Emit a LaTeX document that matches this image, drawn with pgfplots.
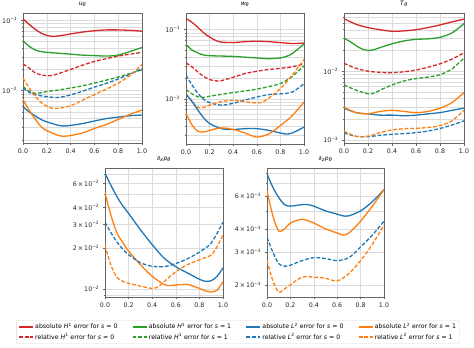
\documentclass[border=0pt]{standalone}
\usepackage{fontspec}
\setmainfont{DejaVu Sans}
\usepackage{pgfplots}
\pgfplotsset{compat=1.18}
\definecolor{mred}{HTML}{D62728}
\definecolor{mgreen}{HTML}{2CA02C}
\definecolor{mblue}{HTML}{1F77B4}
\definecolor{morange}{HTML}{FF7F0E}
\newcommand{\tlab}[1]{10\textsuperscript{−#1}}
\tikzset{
  lrs/.style={color=mred, solid}, lgs/.style={color=mgreen, solid}, lbs/.style={color=mblue, solid}, los/.style={color=morange, solid},
  lrd/.style={color=mred, dash pattern=on 3.8pt off 1.9pt},
  lgd/.style={color=mgreen, dash pattern=on 3.8pt off 1.9pt},
  lbd/.style={color=mblue, dash pattern=on 3.8pt off 1.9pt},
  lod/.style={color=morange, dash pattern=on 3.8pt off 1.9pt},
}
\pgfplotsset{
  panelstyle/.style={
    scale only axis, xmin=0, xmax=1,
    xtick={0,0.2,0.4,0.6,0.8,1},
    xticklabels={0.0,0.2,0.4,0.6,0.8,1.0},
    grid=both,
    major grid style={draw=black!14, line width=0.5pt},
    minor grid style={draw=black!14, line width=0.45pt},
    axis line style={draw=black!60, line width=0.6pt},
    tick style={draw=black!60, line width=0.5pt},
    major tick length=2.2pt, minor tick length=1.3pt,
    tick align=outside, tick pos=left,
    ticklabel style={font=\fontsize{6.3}{7}\selectfont, text=black!85},
    title style={font=\fontsize{6}{7}\selectfont, yshift=-3.5pt},
    every axis plot/.append style={line width=1.3pt, smooth, tension=0.5},
  },
}
\begin{document}
\begin{tikzpicture}
\path[use as bounding box] (0pt,0pt) rectangle (474pt,-348pt);
% ---------------- u_theta
\begin{semilogyaxis}[panelstyle, at={(23pt,-143pt)}, anchor=south west, width=119pt, height=130pt,
  ymin=0.0018, ymax=0.127,
  ytick={0.01,0.1}, yticklabels={\tlab{2},\tlab{1}},
  minor ytick={0.002,0.003,0.004,0.005,0.006,0.007,0.008,0.009,0.02,0.03,0.04,0.05,0.06,0.07,0.08,0.09},
  title={\textit{u}\textsubscript{\textit{θ}}}]
\addplot[lrs] coordinates {(0,0.105)(0.05,0.088)(0.1,0.075)(0.15,0.066)(0.2,0.061)(0.25,0.059)(0.3,0.060)(0.4,0.064)(0.5,0.068)(0.6,0.071)(0.7,0.073)(0.8,0.073)(0.9,0.072)(1.0,0.070)};
\addplot[lgs] coordinates {(0,0.051)(0.05,0.043)(0.1,0.038)(0.15,0.036)(0.2,0.035)(0.3,0.034)(0.4,0.033)(0.5,0.032)(0.6,0.0315)(0.7,0.031)(0.8,0.032)(0.9,0.036)(1.0,0.041)};
\addplot[lrd] coordinates {(0,0.024)(0.05,0.021)(0.1,0.018)(0.15,0.0168)(0.2,0.0163)(0.25,0.0165)(0.3,0.0175)(0.4,0.020)(0.5,0.023)(0.6,0.026)(0.7,0.0285)(0.8,0.031)(0.9,0.033)(1.0,0.035)};
\addplot[lgd] coordinates {(0,0.0115)(0.05,0.0098)(0.1,0.0092)(0.15,0.0093)(0.2,0.0097)(0.3,0.0102)(0.4,0.0109)(0.5,0.0117)(0.6,0.0128)(0.7,0.0141)(0.8,0.0156)(0.9,0.0175)(1.0,0.0198)};
\addplot[lbd] coordinates {(0,0.0108)(0.05,0.0095)(0.1,0.0088)(0.2,0.0082)(0.3,0.0080)(0.4,0.0087)(0.5,0.0098)(0.6,0.0112)(0.7,0.0127)(0.8,0.0146)(0.9,0.0172)(1.0,0.0205)};
\addplot[lod] coordinates {(0,0.0150)(0.05,0.011)(0.1,0.0084)(0.15,0.0068)(0.2,0.0060)(0.25,0.0056)(0.3,0.0056)(0.4,0.0061)(0.5,0.0073)(0.6,0.0088)(0.7,0.0105)(0.8,0.0128)(0.9,0.0165)(1.0,0.0235)};
\addplot[lbs] coordinates {(0,0.0059)(0.05,0.0050)(0.1,0.0044)(0.15,0.0039)(0.2,0.0036)(0.3,0.0032)(0.35,0.00315)(0.4,0.0032)(0.5,0.0034)(0.6,0.0037)(0.7,0.0040)(0.8,0.0042)(0.9,0.0044)(1.0,0.0045)};
\addplot[los] coordinates {(0,0.0075)(0.05,0.0053)(0.1,0.0040)(0.15,0.0031)(0.2,0.0027)(0.3,0.0023)(0.35,0.00225)(0.4,0.0023)(0.5,0.0025)(0.6,0.0029)(0.7,0.0033)(0.8,0.0039)(0.9,0.0046)(1.0,0.0053)};
\end{semilogyaxis}
% ---------------- w_theta
\begin{semilogyaxis}[panelstyle, at={(186pt,-144pt)}, anchor=south west, width=118pt, height=131pt,
  ymin=0.00222, ymax=0.174,
  ytick={0.01,0.1}, yticklabels={\tlab{2},\tlab{1}},
  minor ytick={0.003,0.004,0.005,0.006,0.007,0.008,0.009,0.02,0.03,0.04,0.05,0.06,0.07,0.08,0.09},
  title={\textit{w}\textsubscript{\textit{θ}}}]
\addplot[lrs] coordinates {(0,0.145)(0.05,0.128)(0.1,0.108)(0.15,0.090)(0.2,0.078)(0.25,0.070)(0.3,0.066)(0.4,0.065)(0.5,0.067)(0.6,0.068)(0.7,0.067)(0.8,0.065)(0.9,0.063)(1.0,0.064)};
\addplot[lgs] coordinates {(0,0.061)(0.05,0.051)(0.1,0.046)(0.15,0.043)(0.2,0.042)(0.3,0.0415)(0.4,0.041)(0.5,0.040)(0.6,0.039)(0.7,0.038)(0.8,0.039)(0.85,0.041)(0.9,0.045)(1.0,0.062)};
\addplot[lrd] coordinates {(0,0.033)(0.05,0.029)(0.1,0.0245)(0.15,0.021)(0.2,0.019)(0.25,0.0182)(0.3,0.0183)(0.4,0.0205)(0.5,0.0232)(0.6,0.025)(0.7,0.0265)(0.8,0.0275)(0.9,0.029)(1.0,0.032)};
\addplot[lgd] coordinates {(0,0.0136)(0.05,0.0118)(0.1,0.0107)(0.15,0.0105)(0.2,0.0109)(0.3,0.0116)(0.4,0.0123)(0.5,0.013)(0.6,0.0138)(0.7,0.015)(0.8,0.0166)(0.9,0.021)(1.0,0.030)};
\addplot[lbd] coordinates {(0,0.022)(0.05,0.016)(0.1,0.012)(0.15,0.0098)(0.2,0.0088)(0.3,0.0081)(0.4,0.0086)(0.5,0.0096)(0.6,0.0106)(0.7,0.0115)(0.8,0.0118)(0.9,0.0125)(1.0,0.0165)};
\addplot[lod] coordinates {(0,0.012)(0.05,0.0092)(0.1,0.0075)(0.15,0.0075)(0.2,0.0081)(0.3,0.0091)(0.4,0.0095)(0.5,0.0091)(0.6,0.0087)(0.65,0.009)(0.7,0.0102)(0.8,0.014)(0.9,0.022)(1.0,0.037)};
\addplot[lbs] coordinates {(0,0.0115)(0.05,0.0092)(0.1,0.0069)(0.15,0.0053)(0.2,0.0044)(0.3,0.0037)(0.4,0.0036)(0.5,0.0037)(0.6,0.0037)(0.7,0.0035)(0.8,0.0032)(0.85,0.0031)(0.9,0.0032)(1.0,0.0039)};
\addplot[los] coordinates {(0,0.0062)(0.05,0.0042)(0.1,0.0034)(0.15,0.0033)(0.2,0.0035)(0.3,0.0038)(0.4,0.0036)(0.5,0.0032)(0.6,0.0028)(0.7,0.0031)(0.8,0.0041)(0.9,0.0057)(1.0,0.0090)};
\end{semilogyaxis}
% ---------------- T_theta
\begin{semilogyaxis}[panelstyle, at={(344pt,-143.5pt)}, anchor=south west, width=120pt, height=130.5pt,
  ymin=0.00089, ymax=0.070,
  ytick={0.001,0.01}, yticklabels={\tlab{3},\tlab{2}},
  minor ytick={0.002,0.003,0.004,0.005,0.006,0.007,0.008,0.009,0.02,0.03,0.04,0.05,0.06},
  title={\textit{T}\textsubscript{\textit{θ}}}]
\addplot[lrs] coordinates {(0,0.058)(0.1,0.048)(0.2,0.043)(0.3,0.040)(0.4,0.038)(0.5,0.0385)(0.6,0.040)(0.7,0.043)(0.8,0.047)(0.9,0.052)(1.0,0.057)};
\addplot[lgs] coordinates {(0,0.030)(0.05,0.027)(0.1,0.0235)(0.15,0.021)(0.2,0.020)(0.25,0.0205)(0.3,0.022)(0.4,0.025)(0.5,0.0275)(0.6,0.029)(0.7,0.0295)(0.8,0.031)(0.9,0.036)(1.0,0.049)};
\addplot[lrd] coordinates {(0,0.0130)(0.1,0.011)(0.2,0.0100)(0.3,0.0096)(0.4,0.0095)(0.5,0.0098)(0.6,0.0104)(0.7,0.0114)(0.8,0.0128)(0.9,0.0150)(1.0,0.0185)};
\addplot[lgd] coordinates {(0,0.0063)(0.1,0.0053)(0.2,0.0047)(0.25,0.0048)(0.3,0.0053)(0.4,0.0063)(0.5,0.0072)(0.6,0.0078)(0.7,0.0082)(0.8,0.0089)(0.9,0.0108)(1.0,0.0155)};
\addplot[lbs] coordinates {(0,0.0029)(0.1,0.0025)(0.2,0.0024)(0.3,0.0023)(0.4,0.0023)(0.5,0.00225)(0.6,0.0023)(0.7,0.0024)(0.8,0.0025)(0.9,0.0027)(1.0,0.0029)};
\addplot[los] coordinates {(0,0.0030)(0.1,0.0025)(0.2,0.0024)(0.3,0.0026)(0.4,0.0027)(0.5,0.0026)(0.6,0.0025)(0.7,0.0026)(0.8,0.0029)(0.9,0.0035)(1.0,0.0049)};
\addplot[lbd] coordinates {(0,0.00127)(0.1,0.00113)(0.2,0.00112)(0.3,0.00117)(0.4,0.00121)(0.5,0.00124)(0.6,0.00128)(0.7,0.00135)(0.8,0.00147)(0.9,0.00165)(1.0,0.0019)};
\addplot[lod] coordinates {(0,0.00135)(0.1,0.00113)(0.2,0.00114)(0.3,0.00128)(0.4,0.00140)(0.5,0.00146)(0.6,0.00148)(0.7,0.00152)(0.8,0.00162)(0.9,0.0019)(1.0,0.0027)};
\end{semilogyaxis}
% ---------------- dx p
\begin{semilogyaxis}[panelstyle, at={(105pt,-297pt)}, anchor=south west, width=118pt, height=129pt,
  ymin=0.00873, ymax=0.0777,
  ytick={0.01,0.02,0.03,0.04,0.06},
  yticklabels={\tlab{2},2\,×\,\tlab{2},3\,×\,\tlab{2},4\,×\,\tlab{2},6\,×\,\tlab{2}},
  minor ytick={0.009,0.05,0.07},
  title={\textit{∂}\textsubscript{\textit{x}}\textit{p}\textsubscript{\textit{θ}}}]
\addplot[lbs] coordinates {(0,0.071)(0.05,0.058)(0.1,0.048)(0.15,0.041)(0.2,0.036)(0.3,0.0273)(0.4,0.0212)(0.5,0.0169)(0.6,0.0146)(0.7,0.0131)(0.8,0.0118)(0.85,0.0114)(0.9,0.0115)(0.95,0.0124)(1.0,0.0143)};
\addplot[los] coordinates {(0,0.051)(0.05,0.035)(0.1,0.026)(0.15,0.022)(0.2,0.019)(0.3,0.0151)(0.4,0.0124)(0.5,0.0108)(0.55,0.0106)(0.6,0.0107)(0.7,0.0108)(0.8,0.0101)(0.85,0.0097)(0.9,0.0095)(0.95,0.0098)(1.0,0.0113)};
\addplot[lbd] coordinates {(0,0.031)(0.05,0.026)(0.1,0.0222)(0.15,0.0197)(0.2,0.0179)(0.3,0.0156)(0.4,0.0147)(0.5,0.0146)(0.6,0.0154)(0.7,0.0167)(0.8,0.0187)(0.9,0.0218)(1.0,0.031)};
\addplot[lod] coordinates {(0,0.021)(0.05,0.015)(0.1,0.0122)(0.15,0.0114)(0.2,0.0110)(0.3,0.0105)(0.4,0.0101)(0.45,0.0104)(0.5,0.0113)(0.6,0.0134)(0.7,0.0151)(0.8,0.0164)(0.9,0.0178)(0.95,0.0205)(1.0,0.025)};
\end{semilogyaxis}
% ---------------- dz p
\begin{semilogyaxis}[panelstyle, at={(267pt,-297pt)}, anchor=south west, width=117pt, height=129pt,
  ymin=0.00172, ymax=0.0085,
  ytick={0.002,0.003,0.004,0.006},
  yticklabels={2\,×\,\tlab{3},3\,×\,\tlab{3},4\,×\,\tlab{3},6\,×\,\tlab{3}},
  minor ytick={0.005,0.007,0.008},
  title={\textit{∂}\textsubscript{\textit{z}}\textit{p}\textsubscript{\textit{θ}}}]
\addplot[lbs] coordinates {(0,0.0079)(0.05,0.0067)(0.1,0.0059)(0.15,0.0054)(0.2,0.0053)(0.3,0.0054)(0.35,0.0054)(0.4,0.0053)(0.5,0.0050)(0.6,0.0048)(0.65,0.0047)(0.7,0.0047)(0.8,0.0050)(0.9,0.0056)(1.0,0.0065)};
\addplot[los] coordinates {(0,0.0064)(0.05,0.0047)(0.1,0.0039)(0.15,0.0040)(0.2,0.0043)(0.3,0.0045)(0.4,0.0043)(0.5,0.0040)(0.6,0.0038)(0.65,0.0037)(0.7,0.0038)(0.8,0.0044)(0.9,0.0053)(1.0,0.0065)};
\addplot[lbd] coordinates {(0,0.0036)(0.05,0.0030)(0.1,0.0026)(0.15,0.00252)(0.2,0.00255)(0.3,0.0027)(0.4,0.0028)(0.5,0.00277)(0.6,0.0027)(0.7,0.0028)(0.8,0.0032)(0.9,0.0037)(1.0,0.0044)};
\addplot[lod] coordinates {(0,0.0027)(0.05,0.0021)(0.1,0.00183)(0.15,0.0019)(0.2,0.0020)(0.3,0.0022)(0.4,0.0022)(0.5,0.00217)(0.6,0.0021)(0.7,0.0023)(0.8,0.0027)(0.9,0.0033)(1.0,0.0042)};
\end{semilogyaxis}
% ---------------- legend
\begin{axis}[hide axis, scale only axis, at={(0pt,-348pt)}, anchor=south west, width=474pt, height=348pt,
  xmin=0, xmax=1, ymin=0, ymax=1,
  legend columns=4,
  legend cell align=left,
  legend image code/.code={\draw[#1, line width=1.3pt] (0pt,0pt) -- (14pt,0pt);},
  legend style={at={(0.502,0.046)}, anchor=center, draw=black!15, fill=white, rounded corners=1.5pt,
    font=\fontsize{6.2}{7}\selectfont, inner xsep=2pt, inner ysep=1.5pt,
    nodes={inner sep=1.5pt},
    /tikz/every even column/.append style={column sep=13pt}},
]
\addlegendimage{lrs}\addlegendentry{absolute \textit{H}\textsuperscript{1} error for \textit{s} = 0}
\addlegendimage{lgs}\addlegendentry{absolute \textit{H}\textsuperscript{1} error for \textit{s} = 1}
\addlegendimage{lbs}\addlegendentry{absolute \textit{L}\textsuperscript{2} error for \textit{s} = 0}
\addlegendimage{los}\addlegendentry{absolute \textit{L}\textsuperscript{2} error for \textit{s} = 1}
\addlegendimage{lrd}\addlegendentry{relative \textit{H}\textsuperscript{1} error for \textit{s} = 0}
\addlegendimage{lgd}\addlegendentry{relative \textit{H}\textsuperscript{1} error for \textit{s} = 1}
\addlegendimage{lbd}\addlegendentry{relative \textit{L}\textsuperscript{2} error for \textit{s} = 0}
\addlegendimage{lod}\addlegendentry{relative \textit{L}\textsuperscript{2} error for \textit{s} = 1}
\end{axis}
\end{tikzpicture}
\end{document}
